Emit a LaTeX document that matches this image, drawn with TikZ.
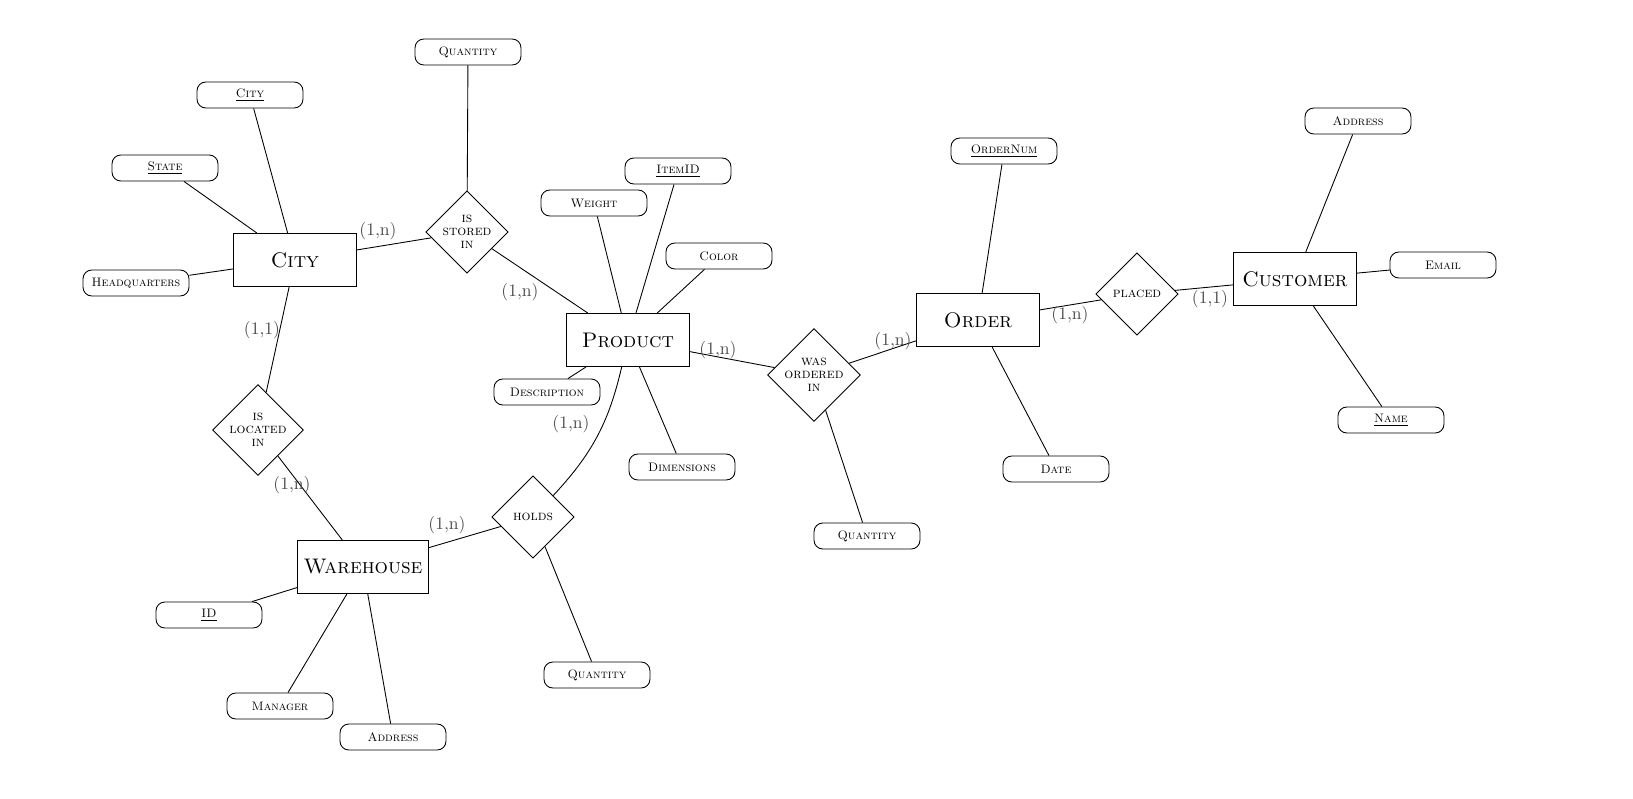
\documentclass[tikz,border=0pt]{standalone}
\usetikzlibrary{shapes.geometric}
\begin{document}
\begin{tikzpicture}[x=0.02cm,y=-0.02cm,
  ent/.style={draw,line width=0.6pt,minimum width=2.46cm,minimum height=1.06cm,font=\large\scshape},
  att/.style={draw,rounded corners=5pt,line width=0.5pt,minimum width=2.12cm,minimum height=0.52cm,font=\scriptsize\scshape,inner sep=1pt},
  rel/.style={draw,diamond,line width=0.5pt,minimum width=1.65cm,minimum height=1.65cm,inner sep=0pt,font=\footnotesize\scshape,align=center},
  card/.style={font=\normalsize,text=black!70},
  every path/.style={line width=0.5pt}]
\useasboundingbox (0,0) rectangle (1633,798);
% entities
\node[ent] (city) at (295,260) {City};
\node[ent] (prod) at (628,340) {Product};
\node[ent] (ord) at (978,320) {Order};
\node[ent] (cust) at (1295,279) {Customer};
\node[ent] (wh) at (363,567) {Warehouse};
% relationships
\node[rel] (stored) at (467,232) {is\\[-2pt]stored\\[-2pt]in};
\node[rel] (located) at (258,430) {is\\[-2pt]located\\[-2pt]in};
\node[rel] (ordered) at (814,375) {was\\[-2pt]ordered\\[-2pt]in};
\node[rel] (placed) at (1137,294) {placed};
\node[rel] (holds) at (533,517) {holds};
% attributes
\node[att] (q1) at (468,52) {Quantity};
\node[att] (acity) at (250,95) {\underline{City}};
\node[att] (astate) at (165,168) {\underline{State}};
\node[att] (hq) at (136,283) {Headquarters};
\node[att] (wt) at (594,203) {Weight};
\node[att] (item) at (678,171) {\underline{ItemID}};
\node[att] (col) at (719,256) {Color};
\node[att] (desc) at (547,392) {Description};
\node[att] (dim) at (682,467) {Dimensions};
\node[att] (onum) at (1004,151) {\underline{OrderNum}};
\node[att] (date) at (1056,469) {Date};
\node[att] (q2) at (867,536) {Quantity};
\node[att] (caddr) at (1358,121) {Address};
\node[att] (mail) at (1443,265) {Email};
\node[att] (name) at (1391,420) {\underline{Name}};
\node[att] (id) at (209,615) {\underline{ID}};
\node[att] (mgr) at (280,706) {Manager};
\node[att] (waddr) at (393,737) {Address};
\node[att] (q3) at (597,675) {Quantity};
% connectors
\draw (city) -- (stored); \draw (stored) -- (prod); \draw (stored) -- (q1);
\draw (city) -- (acity); \draw (city) -- (astate); \draw (city) -- (hq);
\draw (city) -- (located); \draw (located) -- (wh);
\draw (wh) -- (holds); \draw (holds) to[bend right=15] (prod); \draw (holds) -- (q3);
\draw (wh) -- (id); \draw (wh) -- (mgr); \draw (wh) -- (waddr);
\draw (prod) -- (wt); \draw (prod) -- (item); \draw (prod) -- (col);
\draw (prod) -- (desc); \draw (prod) -- (dim);
\draw (prod) -- (ordered); \draw (ordered) -- (ord); \draw (ordered) -- (q2);
\draw (ord) -- (onum); \draw (ord) -- (date);
\draw (ord) -- (placed); \draw (placed) -- (cust);
\draw (cust) -- (caddr); \draw (cust) -- (mail); \draw (cust) -- (name);
% cardinalities
\node[card] (c1) at (378,231) {(1,n)};
\node[card] (c2) at (520,292) {(1,n)};
\node[card] (c3) at (262,330) {(1,1)};
\node[card] (c4) at (292,485) {(1,n)};
\node[card] (c5) at (447,525) {(1,n)};
\node[card] (c6) at (571,424) {(1,n)};
\node[card] (c7) at (718,350) {(1,n)};
\node[card] (c8) at (893,341) {(1,n)};
\node[card] (c9) at (1070,315) {(1,n)};
\node[card] (c10) at (1210,299) {(1,1)};
\end{tikzpicture}
\end{document}
